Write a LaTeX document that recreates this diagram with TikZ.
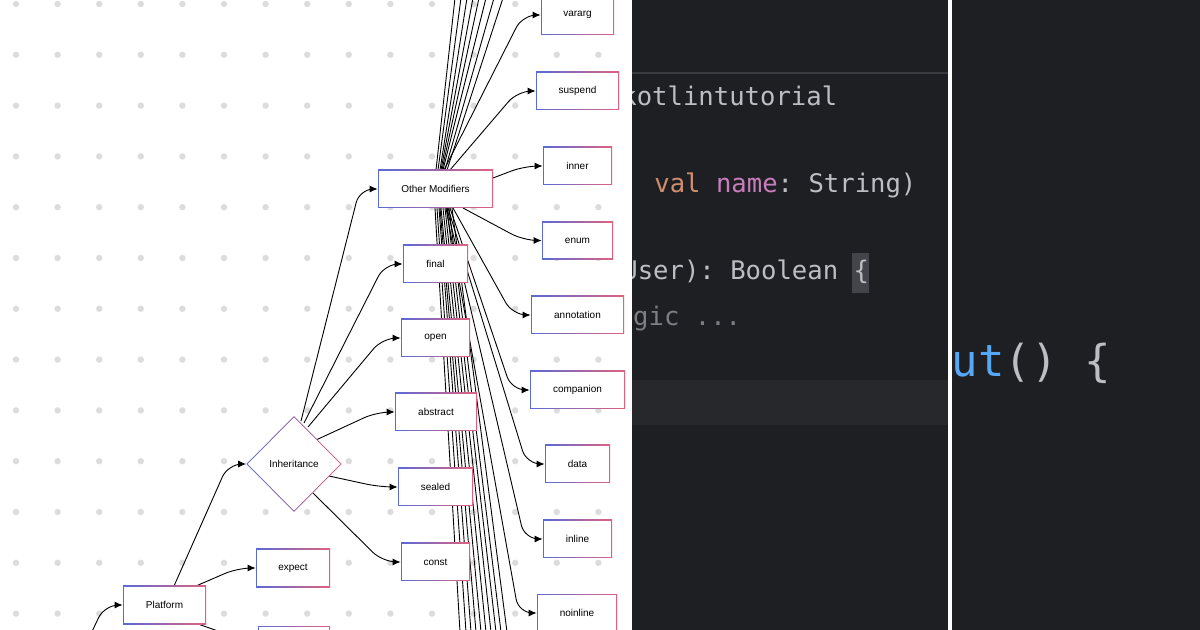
\documentclass[tikz,border=0pt]{standalone}
\usepackage{fontspec}
\setsansfont{Liberation Sans}
\setmonofont{DejaVu Sans Mono}
\usetikzlibrary{arrows.meta,shapes.geometric}
\pgfdeclarelayer{bg}
\pgfdeclarelayer{back}
\pgfsetlayers{back,bg,main}
\definecolor{bblue}{HTML}{5A6AD6}
\definecolor{bred}{HTML}{E0627F}
\definecolor{dotc}{HTML}{DCDCDC}
\definecolor{ide}{HTML}{1E1F22}
\definecolor{ideline}{HTML}{393B40}
\definecolor{idehl}{HTML}{26282C}
\definecolor{kw}{HTML}{CF8E6D}
\definecolor{prop}{HTML}{C77DBB}
\definecolor{plain}{HTML}{BCBEC4}
\definecolor{cmt}{HTML}{7A7E85}
\definecolor{fn}{HTML}{56A8F5}
\definecolor{brace}{HTML}{43454A}
\tikzset{
  box/.style={rectangle, inner sep=0pt, minimum height=19pt, font=\sffamily\fontsize{5}{6}\selectfont,
    path picture={
      \shade[left color=bblue,right color=bred] (path picture bounding box.south west) rectangle (path picture bounding box.north east);
      \fill[white] ([shift={(0.6pt,0.6pt)}]path picture bounding box.south west) rectangle ([shift={(-0.6pt,-0.6pt)}]path picture bounding box.north east);}},
  edge/.style={-{Latex[length=4pt,width=3.5pt]}, black, line width=0.45pt, rounded corners=7pt},
  bund/.style={black, line width=0.45pt},
  code/.style={anchor=base west, inner sep=0pt, font=\ttfamily\fontsize{12.8}{14}\selectfont}
}
\begin{document}
\begin{tikzpicture}[x=0.5pt,y=-0.5pt]
\useasboundingbox (0,0) rectangle (1200,630);
\begin{scope}
\clip (0,0) rectangle (1200,630);
\begin{pgfonlayer}{back}
\fill[white] (0,0) rectangle (632,630);
\foreach \i in {0,...,14}{\foreach \j in {0,...,12}{
  \fill[dotc] ({16+41.6*\i},{4+50.8*\j}) circle (1.6pt);}}
\end{pgfonlayer}
% nodes
\node[box, minimum width=36.5pt, minimum height=20pt] (vararg) at (577.5,15) {vararg};
\node[box, minimum width=41.5pt] (suspend) at (577.5,91) {suspend};
\node[box, minimum width=34.5pt] (inner) at (577.5,166) {inner};
\node[box, minimum width=57.5pt] (om) at (435.5,189) {Other Modifiers};
\node[box, minimum width=35.5pt] (enum) at (577.5,240.5) {enum};
\node[box, minimum width=32.5pt] (final) at (435.5,264) {final};
\node[box, minimum width=46.5pt] (annotation) at (577.5,315) {annotation};
\node[box, minimum width=34.5pt] (open) at (435.5,338) {open};
\node[box, minimum width=47.5pt] (companion) at (577.5,390) {companion};
\node[box, minimum width=41pt] (abstract) at (436,412) {abstract};
\node[box, minimum width=32.5pt] (data) at (577.5,464) {data};
\node[box, minimum width=37.5pt] (sealed) at (435.5,487) {sealed};
\node[box, minimum width=34.5pt] (inline) at (577.5,539) {inline};
\node[box, minimum width=34.5pt] (const) at (435.5,562) {const};
\node[box, minimum width=37pt, minimum height=19.5pt] (expect) at (293,568) {expect};
\node[box, minimum width=40pt] (noinline) at (577,613) {noinline};
\node[box, minimum width=41.5pt] (platform) at (164.5,605) {Platform};
\node[box, minimum width=36pt] (actual) at (294,645) {};
% diamond
\node[diamond, inner sep=0pt, minimum width=47.5pt, minimum height=48pt] (inh) at (294,464) {};
\shade[left color=bblue,right color=bred,even odd rule] (246.5,464) -- (294,416) -- (341.5,464) -- (294,512) -- cycle
  (248,464) -- (294,417.5) -- (340,464) -- (294,510.5) -- cycle;
\fill[white] (248,464) -- (294,417.5) -- (340,464) -- (294,510.5) -- cycle;
\node[font=\sffamily\fontsize{5}{6}\selectfont] at (inh) {Inheritance};
\begin{pgfonlayer}{bg}
% bundles
\foreach \a/\b in {436/455,438/461,440/467,441/473,442/479,443/486,445/494,447/503}{
  \coordinate (t\a) at (\b,-2); \draw[bund] (\a,170) -- (t\a);}
\foreach \a/\b in {435/460,437/466,439/471,440/476,441/481,443/486,445/491,447/496,449/501,452/507}{
  \coordinate (u\a) at (\b,632); \draw[bund] (\a,208) -- (u\a);}
% edges from OM
\draw[edge] (444,170) -- ([xshift=-9pt]vararg.west) -- (vararg.west);
\draw[edge] (450,170) -- ([xshift=-9pt]suspend.west) -- (suspend.west);
\draw[edge] (493,178) -- ([xshift=-9pt]inner.west) -- (inner.west);
\draw[edge] (463,208) -- ([xshift=-9pt]enum.west) -- (enum.west);
\draw[edge] (453,208) -- ([xshift=-9pt]annotation.west) -- (annotation.west);
\draw[edge] (450,208) -- ([xshift=-9pt]companion.west) -- (companion.west);
\draw[edge] (448,208) -- ([xshift=-9pt]data.west) -- (data.west);
\draw[edge] (447,208) -- ([xshift=-9pt]inline.west) -- (inline.west);
\draw[edge] (446,208) -- ([xshift=-9pt]noinline.west) -- (noinline.west);
% edges from Inheritance
\draw[edge] (301,421) -- ([xshift=-9pt]om.west) -- (om.west);
\draw[edge] (304,423) -- ([xshift=-9pt]final.west) -- (final.west);
\draw[edge] (308,427) -- ([xshift=-9pt]open.west) -- (open.west);
\draw[edge] (316,440) -- ([xshift=-9pt]abstract.west) -- (abstract.west);
\draw[edge] (329,476) -- ([xshift=-9pt]sealed.west) -- (sealed.west);
\draw[edge] (313,493) -- ([xshift=-9pt]const.west) -- (const.west);
% edges from Platform
\draw[edge] (174,586) -- ([xshift=-9pt]inh.west) -- (inh.west);
\draw[edge] (196,586) -- ([xshift=-9pt]expect.west) -- (expect.west);
\draw[bund] (198,624) -- (actual.west);
\coordinate (pin) at (88,640);
\draw[edge] (pin) -- ([xshift=-9pt]platform.west) -- (platform.west);
\end{pgfonlayer}
% dark panels
\fill[ide] (632,0) rectangle (1200,630);
\draw[ideline, line width=1pt] (632,73) -- (948,73);
\fill[idehl] (632,380) rectangle (948,425);
\fill[white] (948,0) rectangle (952,630);
\begin{scope}
\clip (632,0) rectangle (948,630);
\node[code, text=plain] (l1) at (621,106) {kotlintutorial};
\node[code] (l2) at (654,193) {\textcolor{kw}{val} \textcolor{prop}{name}\textcolor{plain}{: String)}};
\fill[brace] (852,253) rectangle (869,293);
\node[code, text=plain] (l3) at (622,280) {User): Boolean \{};
\node[code, text=cmt] (l4) at (602,326) {logic ...};
\end{scope}
\begin{scope}
\clip (952,0) rectangle (1200,630);
\node[code, font=\ttfamily\fontsize{22}{24}\selectfont] (l5) at (925,377) {\textcolor{fn}{out}\textcolor{plain}{() \{}};
\end{scope}
\end{scope}
\end{tikzpicture}
\end{document}
